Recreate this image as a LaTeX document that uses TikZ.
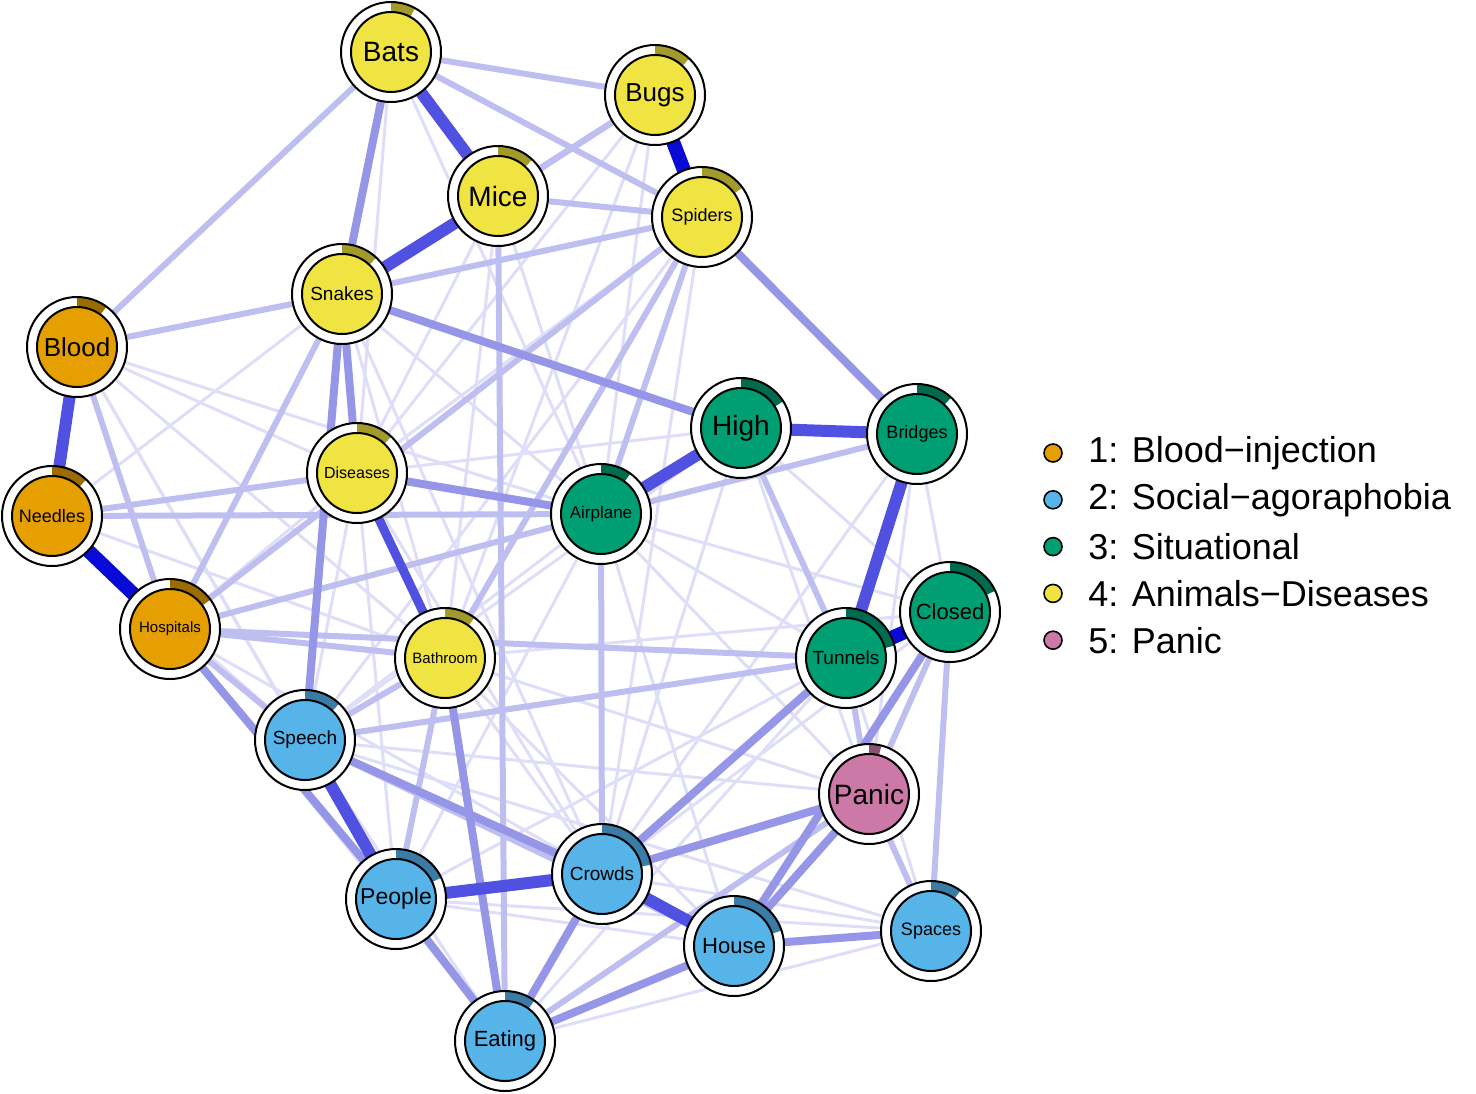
\documentclass[tikz,border=0pt]{standalone}
\usepackage{fontspec}
\setmainfont{Liberation Sans}
\pgfdeclarelayer{bg}
\pgfsetlayers{bg,main}
\definecolor{cA}{HTML}{E69F00}\definecolor{dA}{HTML}{9C6C00}
\definecolor{cB}{HTML}{56B4E9}\definecolor{dB}{HTML}{3A7CA5}
\definecolor{cC}{HTML}{009E73}\definecolor{dC}{HTML}{006B4E}
\definecolor{cD}{HTML}{F0E442}\definecolor{dD}{HTML}{A39A2C}
\definecolor{cE}{HTML}{CC79A7}\definecolor{dE}{HTML}{8A5271}
\definecolor{w1}{RGB}{10,10,215}
\definecolor{w2}{RGB}{80,80,225}
\definecolor{w3}{RGB}{150,150,232}
\definecolor{w4}{RGB}{190,190,240}
\definecolor{w5}{RGB}{222,222,248}
\tikzset{
 e1/.style={w1,line width=7pt},
 e2/.style={w2,line width=6pt},
 e3/.style={w3,line width=4pt},
 e4/.style={w4,line width=3pt},
 e5/.style={w5,line width=1.5pt},
 pnode/.style={circle,minimum size=50pt,inner sep=0pt},
}
\newcommand\netnode[7]{%
 \node[pnode] (#1) at (#2,#3) {};
 \begin{scope}[shift={(#1.center)}]
  \fill[white] (0,0) circle[radius=25pt];
  \fill[d#4] (90:25pt) arc[start angle=90,end angle={90-360*#5},radius=25pt]
    -- ({90-360*#5}:20pt) arc[start angle={90-360*#5},end angle=90,radius=20pt] -- cycle;
  \draw[line width=1pt] (0,0) circle[radius=25pt];
  \fill[c#4] (0,0) circle[radius=20pt];
  \draw[line width=1pt] (0,0) circle[radius=20pt];
  \node at (0,0) {\fontsize{#6}{#6}\selectfont #7};
 \end{scope}}
\begin{document}
\begin{tikzpicture}[x=0.5pt,y=-0.5pt]
\useasboundingbox (0,0) rectangle (1476,1093);
\netnode{Bats}{391}{52}{D}{0.08}{14}{Bats}
\netnode{Bugs}{655}{95}{D}{0.12}{13}{Bugs}
\netnode{Mice}{498}{196}{D}{0.12}{14}{Mice}
\netnode{Spiders}{702}{217}{D}{0.15}{9}{Spiders}
\netnode{Snakes}{342}{294}{D}{0.12}{9.5}{Snakes}
\netnode{Blood}{77}{347}{A}{0.10}{13}{Blood}
\netnode{Diseases}{357}{473}{D}{0.12}{8}{Diseases}
\netnode{High}{741}{428}{C}{0.16}{14}{High}
\netnode{Bridges}{917}{434}{C}{0.12}{9}{Bridges}
\netnode{Needles}{52}{516}{A}{0.12}{9}{Needles}
\netnode{Airplane}{601}{514}{C}{0.10}{8.5}{Airplane}
\netnode{Closed}{950}{612}{C}{0.18}{11}{Closed}
\netnode{Hospitals}{170}{629}{A}{0.15}{7.5}{Hospitals}
\netnode{Bathroom}{445}{658}{D}{0.10}{7.5}{Bathroom}
\netnode{Tunnels}{846}{658}{C}{0.21}{9.5}{Tunnels}
\netnode{Speech}{305}{740}{B}{0.12}{9.5}{Speech}
\netnode{Panic}{869}{794}{E}{0.04}{14}{Panic}
\netnode{Crowds}{602}{874}{B}{0.22}{9.5}{Crowds}
\netnode{People}{396}{899}{B}{0.18}{11.5}{People}
\netnode{House}{734}{946}{B}{0.20}{11}{House}
\netnode{Spaces}{931}{931}{B}{0.10}{9}{Spaces}
\netnode{Eating}{505}{1041}{B}{0.10}{11}{Eating}
\begin{pgfonlayer}{bg}
% faint
\foreach \a/\b in {Blood/Diseases,Blood/Airplane,Blood/Bathroom,Blood/Speech,Blood/People,Needles/Diseases,Needles/Bathroom,Needles/Speech,Needles/Snakes,Hospitals/Diseases,Hospitals/Crowds,Hospitals/People,Hospitals/Eating,Bats/Diseases,Bats/Airplane,Mice/Airplane,Mice/Bathroom,Mice/Diseases,Spiders/Diseases,Spiders/Bathroom,Spiders/Speech,Spiders/Crowds,Bugs/Airplane,Bugs/Diseases,Bugs/Bathroom,Snakes/Airplane,Snakes/Bathroom,Snakes/Crowds,Diseases/High,Diseases/Speech,Diseases/People,Diseases/Crowds,Airplane/Closed,Airplane/Tunnels,Airplane/Speech,Airplane/People,Airplane/Panic,Airplane/House,High/Closed,High/Panic,High/Speech,High/Crowds,Bridges/Closed,Bridges/Panic,Bridges/Crowds,Closed/House,Closed/Crowds,Tunnels/Spaces,Tunnels/Eating,Tunnels/People,Bathroom/Crowds,Bathroom/House,Bathroom/Panic,Speech/Eating,Speech/Spaces,People/House,People/Spaces,Crowds/Spaces,Eating/Spaces,Speech/Panic,Bathroom/Closed}
  \draw[e5] (\a) -- (\b);
% light
\foreach \a/\b in {Bats/Blood,Bats/Bugs,Bats/Spiders,Bugs/Snakes,Bugs/Mice,Mice/Spiders,Spiders/Snakes,Spiders/Bathroom,Blood/Hospitals,Blood/Snakes,Needles/Airplane,Hospitals/Bathroom,Hospitals/Tunnels,Hospitals/Speech,Hospitals/Airplane,Snakes/Hospitals,Diseases/Needles,Bridges/Airplane,High/Tunnels,Tunnels/Speech,Speech/House,Panic/Spaces,Closed/Spaces,Closed/Panic,Eating/Panic,People/Bathroom,Mice/Eating,Spiders/Airplane,Spiders/Hospitals,Crowds/Airplane,Speech/Bathroom,Tunnels/Panic,Bridges/High}
  \draw[e4] (\a) -- (\b);
% medium
\foreach \a/\b in {Bats/Snakes,Snakes/Diseases,Diseases/Airplane,Snakes/High,Spiders/Bridges,Snakes/Speech,Speech/Crowds,Hospitals/People,Bathroom/Eating,People/Eating,Crowds/Eating,Eating/House,House/Panic,House/Spaces,Crowds/Panic,Crowds/Tunnels,House/Closed,Diseases/Bathroom,Airplane/High}
  \draw[e3] (\a) -- (\b);
\draw[e2] (Bats) -- (Mice);
\draw[e2] (Mice) -- (Snakes);
\draw[e2] (Blood) -- (Needles);
\draw[e2] (Bridges) -- (Tunnels);
\draw[e2] (High) -- (Bridges);
\draw[e2] (High) -- (Airplane);
\draw[e2] (Speech) -- (People);
\draw[e2] (People) -- (Crowds);
\draw[e2] (Crowds) -- (House);
\draw[e2,line width=4.5pt] (Diseases) -- (Bathroom);
\draw[e1] (Bugs) -- (Spiders);
\draw[e1] (Needles) -- (Hospitals);
\draw[e1] (Tunnels) -- (Closed);
\end{pgfonlayer}
% legend
\foreach \i/\c/\t in {0/A/{1: Blood−injection},1/B/{2: Social−agoraphobia},2/C/{3: Situational},3/D/{4: Animals−Diseases},4/E/{5: Panic}}{
 \node[circle,fill=c\c,draw,line width=0.8pt,minimum size=9pt,inner sep=0pt] (lg\i) at (1053,{453+46.8*\i}) {};
 \node[anchor=west,inner sep=0pt,font=\fontsize{18}{18}\selectfont] (lt\i) at (1088,{453+46.8*\i}) {\t};
}
\end{tikzpicture}
\end{document}
